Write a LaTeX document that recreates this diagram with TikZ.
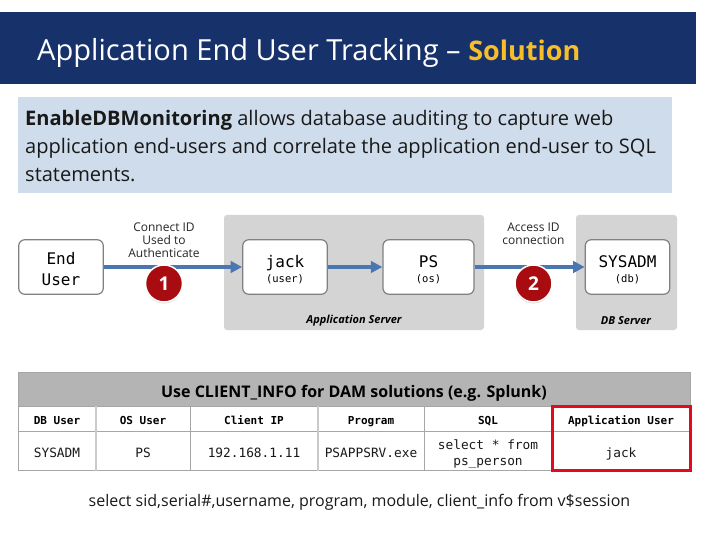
\documentclass[tikz,border=0pt]{standalone}
\usepackage{fontspec}
\setmainfont{Open Sans}
\setmonofont{DejaVu Sans Mono}
\usetikzlibrary{arrows.meta,calc,shadows}
\definecolor{hdrblue}{HTML}{17326B}
\definecolor{gold}{HTML}{F7BE2A}
\definecolor{pale}{HTML}{CEDCEC}
\definecolor{srv}{HTML}{D4D4D4}
\definecolor{flow}{HTML}{4A77B0}
\definecolor{boxline}{HTML}{808080}
\definecolor{badge}{HTML}{A80C10}
\definecolor{tblhead}{HTML}{B4B4B4}
\definecolor{tline}{HTML}{A6A6A6}
\definecolor{redbox}{HTML}{E00B1C}
\newcommand{\fs}[1]{\fontsize{#1}{#1}\selectfont}
\tikzset{
  x=1pt,y=-1pt,
  stepbox/.style={draw=boxline,line width=1.2pt,fill=white,rounded corners=6pt,inner sep=0pt,minimum height=54.5pt},
  boxtext/.style={inner sep=0pt,anchor=base,text=black},
  flowline/.style={draw=flow,line width=4pt,-{Triangle[length=11.5pt,width=11.5pt,fill=flow]}},
  server/.style={fill=srv,rounded corners=3pt,draw=none},
  srvlabel/.style={font=\fs{11}\bfseries\itshape,text=black,inner sep=0pt},
  note/.style={font=\fs{12},align=center,inner sep=0pt,text=black!85},
  numbadge/.style={circle,fill=badge,draw=white,line width=1.5pt,minimum size=37pt,inner sep=0pt,text=white,font=\fs{19}\bfseries,drop shadow={shadow xshift=0pt,shadow yshift=-1.5pt,opacity=.3}},
  thead/.style={font=\ttfamily\bfseries\fs{11},inner sep=0pt,text=black,anchor=base},
  tcell/.style={font=\ttfamily\fs{12.8},inner sep=0pt,text=black!90,anchor=base},
  tl/.style={draw=tline,line width=.8pt},
}
\begin{document}
\begin{tikzpicture}
\useasboundingbox (0,0) rectangle (720,540);
\fill[white] (0,0) rectangle (720,540);
% header
\fill[hdrblue] (0,12) rectangle (696,84);
\node[anchor=base west,inner sep=0pt,text=white,font=\fs{29.05}] (title) at (37,61) {Application End User Tracking -- {\color{gold}\fs{27}\bfseries Solution}};
% intro
\fill[pale] (18,97) rectangle (672,193);
\node[anchor=north west,inner sep=0pt,align=left,font=\fontsize{20.05}{28}\selectfont,text=black!90] (intro) at (25,110)
 {\textbf{EnableDBMonitoring} allows database auditing to capture web\\application end-users and correlate the application end-user to SQL\\statements.};
% servers
\fill[server] (224,215) rectangle (484,330);
\fill[server] (576,215) rectangle (677,330);
\node[srvlabel] (appsrv) at (354,320.5) {Application Server};
\node[srvlabel] (dbsrv) at (626,320.5) {DB Server};
% boxes
\node[stepbox,minimum width=84.5pt] (end) at (61,267) {};
\node[stepbox,minimum width=84.5pt] (jack) at (285,267) {};
\node[stepbox,minimum width=91pt] (ps) at (428.5,267) {};
\node[stepbox,minimum width=84.5pt] (sys) at (627.5,267) {};
\node[boxtext,font=\ttfamily\fs{16}] (end1) at (61,264) {End};
\node[boxtext,font=\ttfamily\fs{16}] (end2) at (61,285) {User};
\node[boxtext,font=\ttfamily\fs{16}] (jack1) at (285,267) {jack};
\node[boxtext,font=\ttfamily\fs{10.5}] (jack2) at (285,282) {(user)};
\node[boxtext,font=\ttfamily\fs{16}] (ps1) at (428.5,267) {PS};
\node[boxtext,font=\ttfamily\fs{10.5}] (ps2) at (428.5,282) {(os)};
\node[boxtext,font=\ttfamily\fs{16}] (sys1) at (627.5,267) {SYSADM};
\node[boxtext,font=\ttfamily\fs{10.5}] (sys2) at (627.5,282) {(db)};
% flows
\draw[flowline] (end) -- (jack);
\draw[flowline] (jack) -- (ps);
\draw[flowline] (ps) -- (sys);
% notes
\node[note] (n1) at (164,240.5) {Connect ID\\[1pt]Used to\\[1pt]Authenticate};
\node[note] (n3) at (533.5,234) {Access ID\\[1pt]connection};
\node[numbadge] (b1) at (164,283.5) {1};
\node[numbadge] (b2) at (533.5,283.5) {2};
% table
\fill[tblhead] (18,372) rectangle (690,406);
\node[font=\fs{16}\bfseries,inner sep=0pt,anchor=base] (ttitle) at (354,397) {Use CLIENT\_INFO for DAM solutions (e.g. Splunk)};
\draw[tl] (18,372) -- (690,372) -- (690,406);
\draw[tl] (18,372) -- (18,471);
\draw[tl] (18,406) -- (690,406);
\draw[tl] (18,431.5) -- (690,431.5);
\draw[tl] (18,470.5) -- (690,470.5);
\draw[draw=tline!60,line width=1.2pt] (96,406) -- (96,470.5);
\draw[tl] (190.5,406) -- (190.5,470.5);
\draw[draw=tline!60,line width=1.2pt] (318,406) -- (318,470.5);
\draw[tl] (424.5,406) -- (424.5,470.5);
\node[thead] (h1) at (57,424) {DB User};
\node[thead] (h2) at (143,424) {OS User};
\node[thead] (h3) at (254,424) {Client IP};
\node[thead] (h4) at (371,424) {Program};
\node[thead] (h5) at (488,424) {SQL};
\node[thead] (h6) at (621,424) {Application User};
\node[tcell] (c1) at (57,457) {SYSADM};
\node[tcell] (c2) at (143,457) {PS};
\node[tcell] (c3) at (254,457) {192.168.1.11};
\node[tcell] (c4) at (371,457) {PSAPPSRV.exe};
\node[tcell] (c5a) at (488,449) {select * from};
\node[tcell] (c5b) at (488,465.5) {ps\_person};
\node[tcell] (c6) at (621,457) {jack};
\draw[draw=redbox,line width=3pt] (552,406.5) rectangle (690,470.5);
% query
\node[font=\fs{16},inner sep=0pt,text=black!90,anchor=base] (q) at (359.5,506) {select sid,serial\#,username, program, module, client\_info from v\$session};
\end{tikzpicture}
\end{document}
